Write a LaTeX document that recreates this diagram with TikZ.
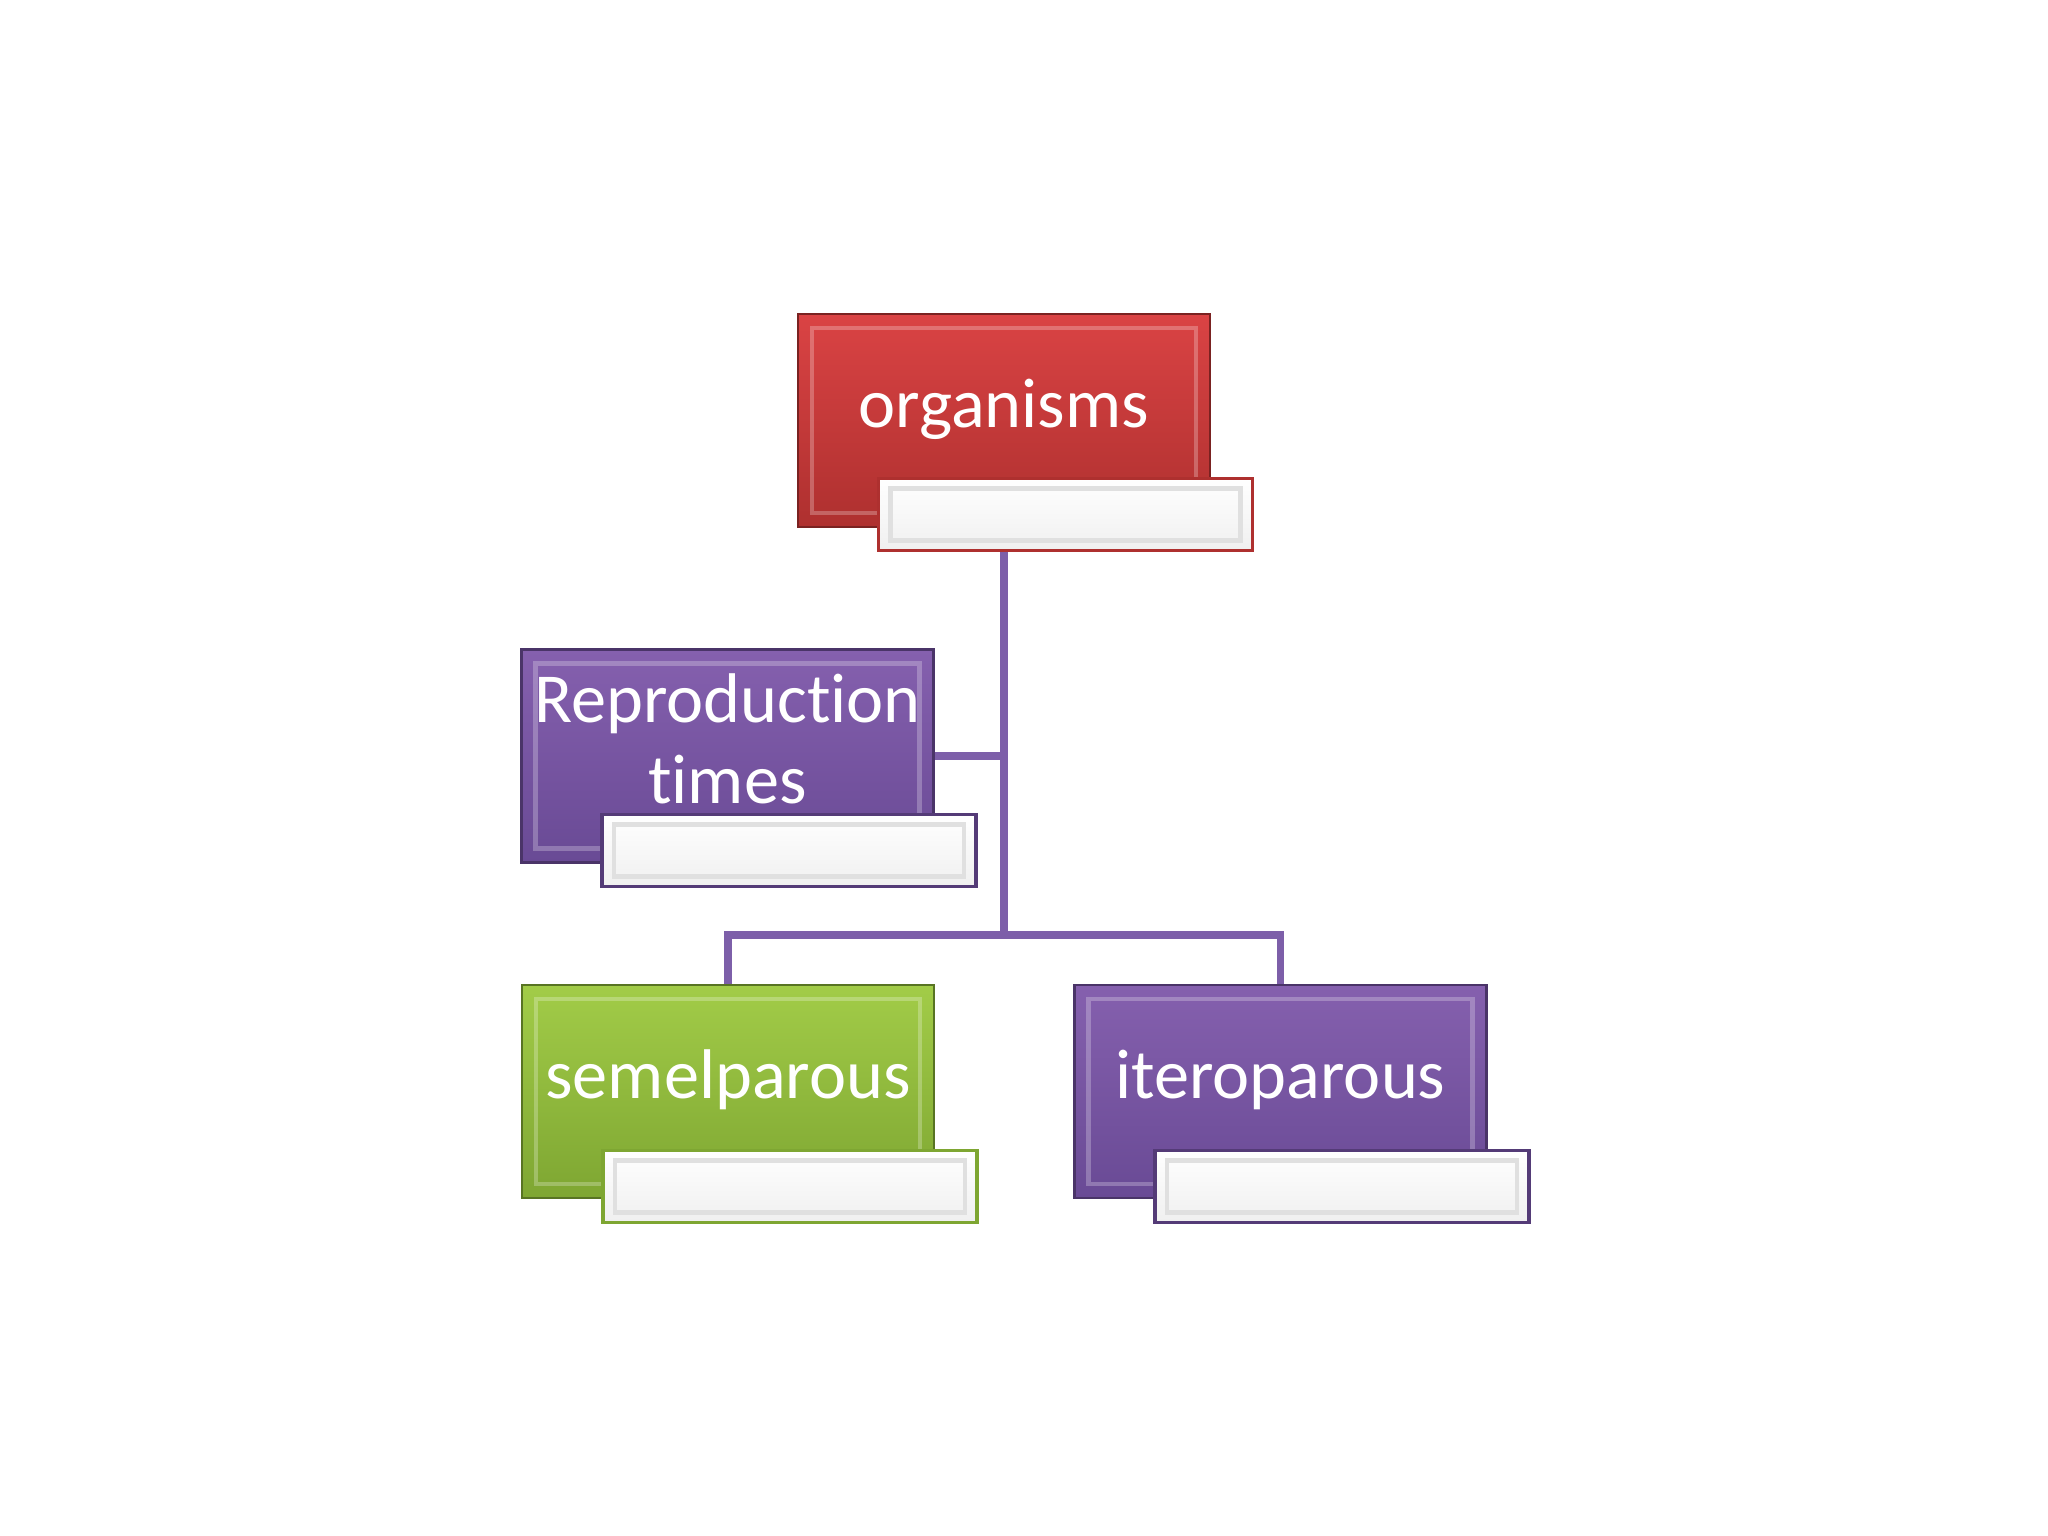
\documentclass[tikz,border=0pt]{standalone}
\usepackage{fontspec}
\setmainfont{Carlito}[Ligatures=NoCommon]
\usepackage{tikz}
\usetikzlibrary{positioning,calc}

\definecolor{orgredtop}{HTML}{DA4344}
\definecolor{orgredbot}{HTML}{AE302F}
\definecolor{repviolettop}{HTML}{8560AE}
\definecolor{repvioletbot}{HTML}{694A95}
\definecolor{semgreentop}{HTML}{A2CC48}
\definecolor{semgreenbot}{HTML}{7EA632}
\definecolor{linkviolet}{HTML}{7D5FA9}

\newcommand{\boxtext}[1]{\raisebox{0.09cm}[\height][\depth]{\begin{tabular}{@{}c@{}}#1\end{tabular}}}

\begin{document}
\begin{tikzpicture}[
  mainbox/.style={rectangle, minimum width=4.12cm, minimum height=2.13cm, inner sep=0pt,
    text=white, font=\fontsize{20}{23}\selectfont, line width=0.6pt,
    path picture={\draw[white, opacity=0.25, line width=1.4pt]
      ([shift={(0.14,-0.14)}]path picture bounding box.north west) rectangle
      ([shift={(-0.14,0.14)}]path picture bounding box.south east);}},
  redbox/.style={mainbox, draw=orgredbot!70!black, top color=orgredtop, bottom color=orgredbot},
  violetbox/.style={mainbox, draw=repvioletbot!70!black, top color=repviolettop, bottom color=repvioletbot},
  greenbox/.style={mainbox, draw=semgreenbot!70!black, top color=semgreentop, bottom color=semgreenbot},
  tagbox/.style={rectangle, minimum width=3.74cm, minimum height=0.72cm, inner sep=0pt,
    line width=1.1pt, top color=white, bottom color=black!6,
    path picture={\draw[black!12, line width=1.2pt]
      ([shift={(0.12,-0.10)}]path picture bounding box.north west) rectangle
      ([shift={(-0.12,0.10)}]path picture bounding box.south east);}},
  linkedge/.style={draw=linkviolet, line width=2pt}
]
\useasboundingbox (0,0) rectangle (20.48,-15.36);

\coordinate (jmid) at (10.04,-9.35);

\node[redbox] (norg) at (10.04,-4.205) {\boxtext{organisms}};
\draw[linkedge] (norg.south) -- (jmid);
\node[tagbox, draw=orgredbot] (worg) at (10.655,-5.145) {};

\node[violetbox] (nrep) at (7.275,-7.56) {\boxtext{Reproduction\\times}};
\draw[linkedge] (nrep.east) -- (nrep.east -| jmid);
\node[tagbox, draw=repvioletbot!80!black] (wrep) at (7.89,-8.505) {};

\node[greenbox] (nsem) at (7.28,-10.915) {\boxtext{semelparous}};
\node[tagbox, draw=semgreenbot] (wsem) at (7.90,-11.865) {};

\node[violetbox] (nite) at (12.805,-10.915) {\boxtext{iteroparous}};
\node[tagbox, draw=repvioletbot!80!black] (wite) at (13.42,-11.865) {};

\draw[linkedge] (nsem.north) |- (jmid) -| (nite.north);

\end{tikzpicture}
\end{document}
